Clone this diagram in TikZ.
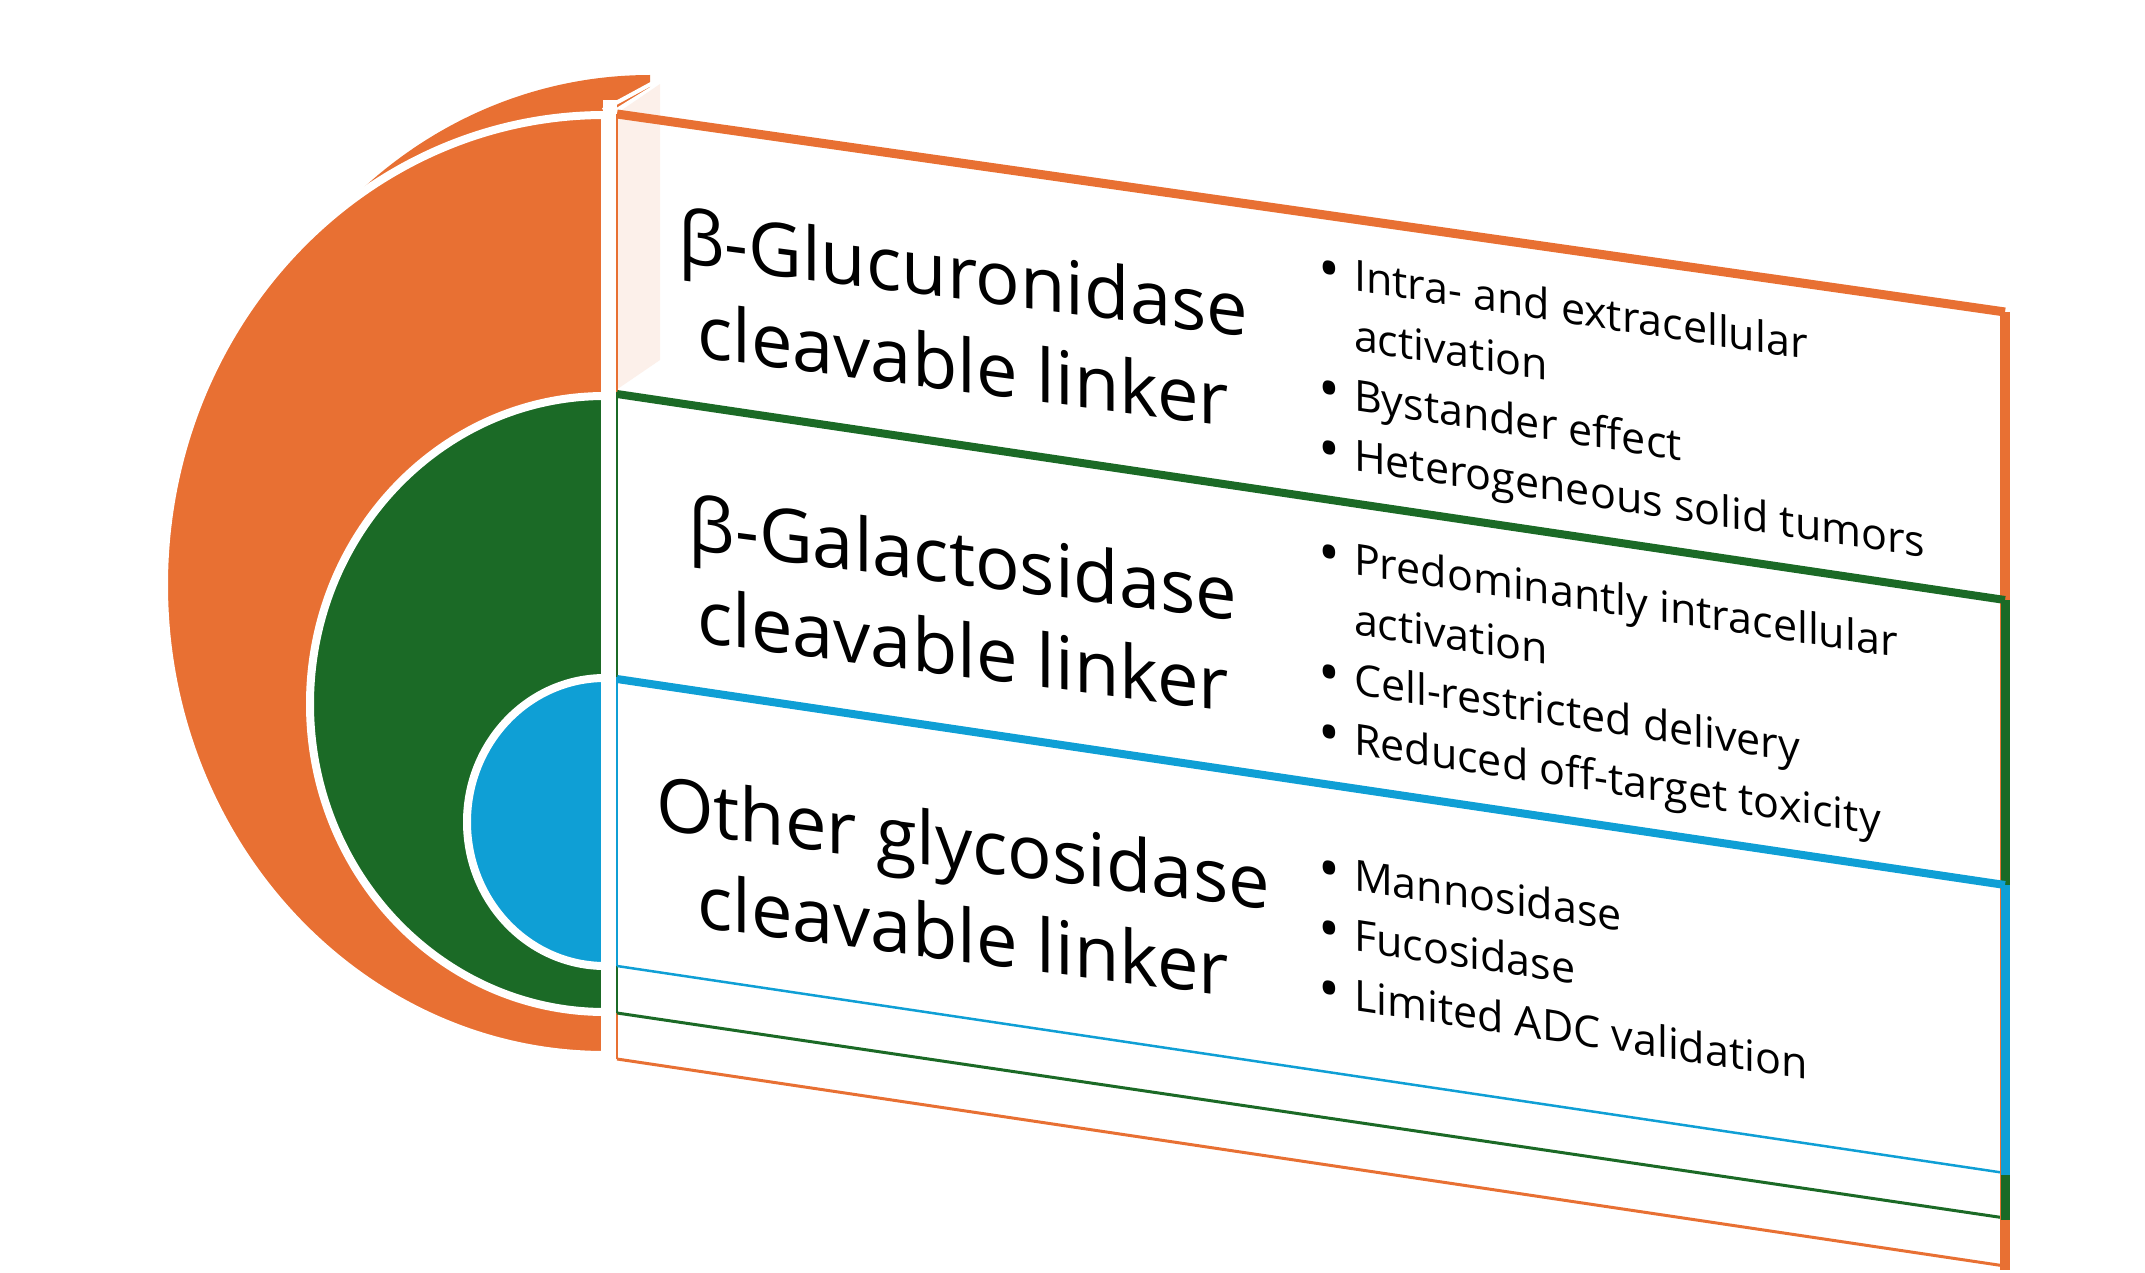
\documentclass[tikz,border=0pt]{standalone}
\usepackage{fontspec}
\setmainfont{Open Sans}
\definecolor{cOr}{HTML}{E87033}
\definecolor{cGr}{HTML}{1B6A26}
\definecolor{cBl}{HTML}{0F9FD5}
\definecolor{cPk}{HTML}{FCF0EA}
\newcommand{\bul}{{\fontsize{58}{0}\selectfont\raisebox{-2pt}{•}}}
\tikzset{
  title/.style={align=center,yslant=-0.13,font=\fontsize{74}{92}\selectfont,inner sep=0},
  blist/.style={anchor=north west,yslant=-0.152,inner sep=0,font=\fontsize{43}{60}\selectfont}
}
\begin{document}
\begin{tikzpicture}[x=1pt,y=1pt]
\useasboundingbox (0,0) rectangle (2145,-1273);
% back of orange slab
\fill[cOr] (650,-75) arc[start angle=90,end angle=270,x radius=441,y radius=470] -- cycle;
% side face
\fill[white] (605,-115) -- (660,-81) -- (660,-1020) -- (605,-1059) -- cycle;
\fill[cPk] (616,-114) -- (660,-84) -- (660,-360) -- (616,-390) -- cycle;
\draw[white,line width=4] (603,-110) -- (662,-78);
% front half ellipses
\fill[cOr,draw=white,line width=8] (605,-115) arc[start angle=90,end angle=270,x radius=441,y radius=470] -- cycle;
\fill[cGr,draw=white,line width=8] (605,-396) arc[start angle=90,end angle=270,x radius=295,y radius=308] -- cycle;
\fill[cBl,draw=white,line width=8] (605,-678) arc[start angle=90,end angle=270,x radius=138,y radius=144] -- cycle;
\fill[white] (603,-100) rectangle (617,-1070);
% thin left edges
\draw[cOr,line width=1.5] (617,-114) -- (617,-392);
\draw[cGr,line width=1.5] (617,-392) -- (617,-677);
\draw[cBl,line width=1.5] (617,-677) -- (617,-966);
\draw[cGr,line width=1.5] (617,-966) -- (617,-1013);
\draw[cOr,line width=1.5] (617,-1013) -- (617,-1059);
% panel outlines
\draw[cOr,line width=3] (617,-1059) -- (2005,-1266);
\draw[cGr,line width=3] (617,-1013) -- (2005,-1218);
\draw[cBl,line width=2.5] (617,-966) -- (2005,-1173);
\draw[cOr,line width=9] (617,-114) -- (2005,-312);
\draw[cOr,line width=10] (2005,-312) -- (2005,-1270);
\draw[cGr,line width=8] (617,-394) -- (2005,-600);
\draw[cGr,line width=9] (2005,-600) -- (2005,-1220);
\draw[cBl,line width=8] (617,-679) -- (2005,-885);
\draw[cBl,line width=9] (2005,-885) -- (2005,-1175);
% titles
\node[title] (t1) at (963,-318) {β-Glucuronidase\\cleavable linker};
\node[title] (t2) at (963,-603) {β-Galactosidase\\cleavable linker};
\node[title] (t3) at (963,-888) {Other glycosidase\\cleavable linker};
% bullets
\node[blist] (b1) at (1318,-243) {\begin{tabular}{@{}l@{\hspace{14pt}}l@{}}\bul&Intra- and extracellular\\&activation\\\bul&Bystander effect\\\bul&Heterogeneous solid tumors\end{tabular}};
\node[blist] (b2) at (1318,-527) {\begin{tabular}{@{}l@{\hspace{14pt}}l@{}}\bul&Predominantly intracellular\\&activation\\\bul&Cell-restricted delivery\\\bul&Reduced off-target toxicity\end{tabular}};
\node[blist] (b3) at (1318,-843) {\begin{tabular}{@{}l@{\hspace{14pt}}l@{}}\bul&Mannosidase\\\bul&Fucosidase\\\bul&Limited ADC validation\end{tabular}};
\end{tikzpicture}
\end{document}
